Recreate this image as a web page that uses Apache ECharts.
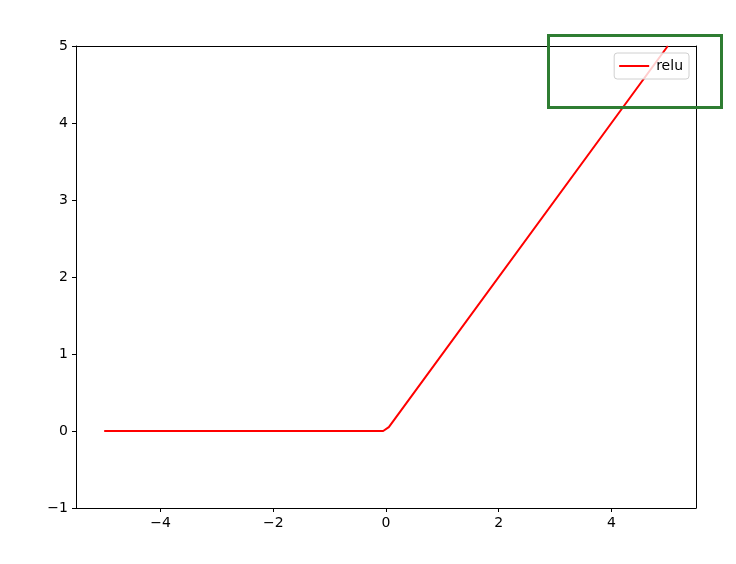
<!DOCTYPE html>
<html>
<head>
<meta charset="utf-8">
<script src="https://cdn.jsdelivr.net/npm/echarts@6/dist/echarts.min.js"></script>
<style>
html,body{margin:0;padding:0;background:#fff;}
#c{width:736px;height:564px;}
</style>
</head>
<body>
<div id="c"></div>
<script>
const seriesName = 'relu';
const xValues = [-5, -0.05, 0.05, 5];
const yValues = [0, 0, 0.05, 5];
const xTicks = [-4, -2, 0, 2, 4];
const yTicks = [-1, 0, 1, 2, 3, 4, 5];

const chart = echarts.init(document.getElementById('c'), null, {renderer: 'canvas'});
const fmt = v => (v < 0 ? '\u2212' + Math.abs(v) : String(v));
const font = 'DejaVu Sans';
const spine = {show: true, onZero: false, lineStyle: {color: '#000', width: 1}};
chart.setOption({
  animation: false,
  backgroundColor: '#fff',
  grid: {left: 76, right: 40, top: 46, bottom: 56, show: false},
  xAxis: [{
    type: 'value', min: -5.5, max: 5.5, position: 'bottom',
    splitLine: {show: false},
    axisLine: spine,
    axisTick: {show: true, length: 4, lineStyle: {color: '#000'}, customValues: xTicks},
    axisLabel: {color: '#000', fontFamily: font, fontSize: 14, margin: 8, formatter: fmt, customValues: xTicks}
  }, {
    type: 'value', min: -5.5, max: 5.5, position: 'top',
    splitLine: {show: false}, axisLine: spine, axisTick: {show: false}, axisLabel: {show: false}
  }],
  yAxis: [{
    type: 'value', min: -1, max: 5, interval: 1, position: 'left',
    splitLine: {show: false},
    axisLine: spine,
    axisTick: {show: true, length: 4, lineStyle: {color: '#000'}},
    axisLabel: {color: '#000', fontFamily: font, fontSize: 14, margin: 8, formatter: fmt}
  }, {
    type: 'value', min: -1, max: 5, interval: 1, position: 'right',
    splitLine: {show: false}, axisLine: spine, axisTick: {show: false}, axisLabel: {show: false}
  }],
  legend: {
    data: [{name: seriesName, icon: 'rect'}],
    right: 47, top: 53,
    itemWidth: 30, itemHeight: 2, itemGap: 8,
    padding: [6, 6, 6, 5],
    backgroundColor: 'rgba(255,255,255,0.8)',
    borderColor: '#d0d0d0', borderWidth: 1, borderRadius: 3,
    textStyle: {fontFamily: font, fontSize: 14, color: '#000', padding: [0, 0, 0, 2]}
  },
  series: [{
    name: seriesName, type: 'line',
    data: xValues.map((x, i) => [x, yValues[i]]),
    showSymbol: false, symbol: 'none',
    lineStyle: {color: '#ff0000', width: 2},
    itemStyle: {color: '#ff0000'}
  }],
  graphic: [{
    type: 'rect', z: 100,
    shape: {x: 548.5, y: 35.5, width: 173, height: 72},
    style: {fill: 'none', stroke: '#2e7d32', lineWidth: 3}
  }]
});
</script>
</body>
</html>
